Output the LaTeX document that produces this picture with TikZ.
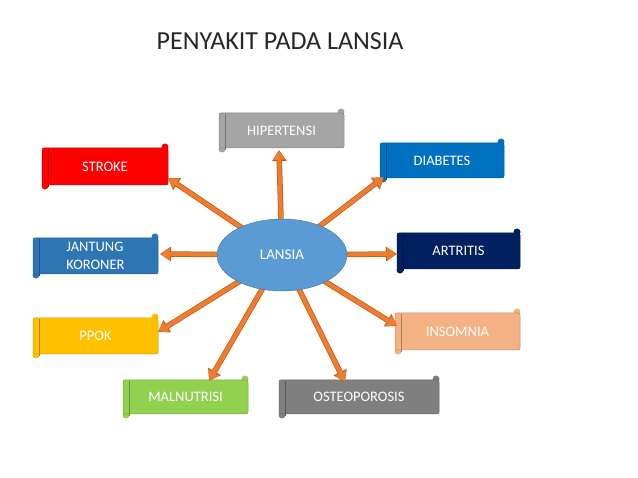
\documentclass[tikz,border=0pt]{standalone}
\usepackage{fontspec}
\setmainfont{Carlito}
\usetikzlibrary{arrows.meta}
\definecolor{ora}{HTML}{ED7D31}
\definecolor{orad}{HTML}{C55A11}
\definecolor{ellc}{HTML}{5B9BD5}
\definecolor{elld}{HTML}{41719C}
\begin{document}
\begin{tikzpicture}[x=1pt,y=-1pt]
\useasboundingbox (0,0) rectangle (638,478);
\node[font=\fontsize{26}{30}\selectfont, text=black!85] (title) at (280,41) {PENYAKIT PADA LANSIA};
% boxes
\foreach \n/\c/\l/\t/\r/\b/\txt in {
 hip/A5A5A5/219/113/344/148/HIPERTENSI,
 str/FF0000/42/148/168/185/STROKE,
 dia/0070C0/380/143/504/178/DIABETES,
 jan/2E75B6/33/238/158/274/{JANTUNG\\KORONER},
 art/002060/397/233/520/269/ARTRITIS,
 ppo/FFC000/33/318/158/354/PPOK,
 ins/F4B183/395/313/520/350/INSOMNIA,
 mal/92D050/123/380/248/414/MALNUTRISI,
 ost/7F7F7F/279/380/439/414/OSTEOPOROSIS}{
  \definecolor{bc}{HTML}{\c}
  \fill[bc] (\r-3,\t-1) circle (3.5);
  \fill[bc] (\l+3,\b+1) circle (3.5);
  \draw[fill=bc, draw=bc!80!black, line width=0.5pt, rounded corners=2pt] (\l,\t) rectangle (\r,\b);
  \draw[bc!70!black, line width=0.5pt] (\l+6,\t+1) -- (\l+6,\b+2);
  \node[text=white, font=\fontsize{14.5}{18}\selectfont, align=left] (\n) at ({(\l+\r)/2},{(\t+\b)/2}) {\txt};
}
\coordinate (c) at (282,255);
\coordinate (ehip) at (279,150);
\coordinate (estr) at (168,178);
\coordinate (edia) at (384,177);
\coordinate (ejan) at (160,254);
\coordinate (eart) at (397,254);
\coordinate (eppo) at (158,332);
\coordinate (eins) at (397,326);
\coordinate (emal) at (209,381);
\coordinate (eost) at (345,382);
\foreach \e in {hip,str,dia,jan,art,ppo,ins,mal,ost}{
  \draw[-{Triangle[length=11pt,width=14pt]}, line width=5.5pt, draw=orad] (c) -- (e\e);
  \draw[-{Triangle[length=9pt,width=11.5pt]}, line width=4pt, draw=ora, shorten >=0.8pt] (c) -- (e\e);
}
\draw[fill=ellc, draw=elld] (c) ellipse (65 and 36);
\node[text=white, font=\fontsize{15}{18}\selectfont] (lan) at (c) {LANSIA};
\end{tikzpicture}
\end{document}
